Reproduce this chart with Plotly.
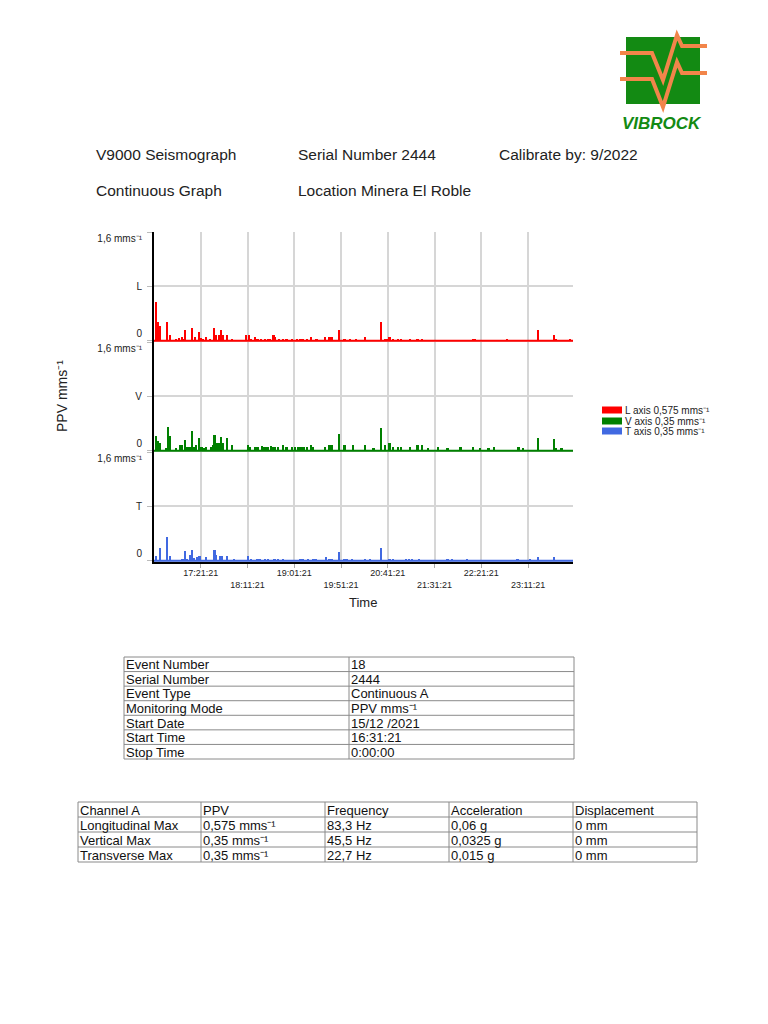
import pandas as pd
import plotly.graph_objects as go

W, H = 768, 1024
OFF = 8  # page body margin in the browser
FONT = "Arial, Liberation Sans, sans-serif"

def px(x):
    return (x - OFF) / W

def py(y):
    return 1 - (y - OFF) / H

# ---------------- data ----------------
start_time = pd.Timestamp("2021-12-15 16:31:21")
span_minutes = 448

tick_labels = ["17:21:21", "18:11:21", "19:01:21", "19:51:21",
               "20:41:21", "21:31:21", "22:21:21", "23:11:21"]

# minutes after start / PPV (mm/s)
l_minutes = [2, 4, 7, 14, 17, 24, 27, 30, 32, 33, 41, 44, 48, 50, 53, 56, 60, 64, 66, 70,
             72, 74, 78, 84, 99, 102, 104, 108, 111, 115, 119, 122, 124, 128, 130, 134, 138,
             142, 148, 153, 156, 159, 164, 168, 174, 183, 188, 190, 198, 204, 210, 216, 226,
             243, 247, 250, 252, 256, 261, 264, 274, 282, 287, 341, 343, 378, 411, 428, 430, 445]
l_values = [0.575, 0.27, 0.22, 0.28, 0.09, 0.03, 0.04, 0.06, 0.025, 0.15, 0.19, 0.06, 0.12, 0.035,
            0.03, 0.05, 0.03, 0.19, 0.09, 0.09, 0.16, 0.09, 0.09, 0.03, 0.09, 0.09, 0.03, 0.05,
            0.03, 0.03, 0.03, 0.03, 0.03, 0.09, 0.05, 0.03, 0.03, 0.03, 0.03, 0.03, 0.03, 0.03,
            0.03, 0.05, 0.03, 0.05, 0.05, 0.05, 0.15, 0.03, 0.03, 0.02, 0.05, 0.27, 0.03, 0.03,
            0.05, 0.03, 0.03, 0.03, 0.03, 0.03, 0.03, 0.03, 0.03, 0.03, 0.15, 0.09, 0.03, 0.015]

v_minutes = [2, 4, 7, 13, 15, 17, 24, 28, 30, 33, 36, 39, 41, 43, 45, 48, 51, 54, 56, 61, 63,
             65, 67, 70, 72, 74, 78, 84, 101, 103, 108, 111, 116, 118, 120, 122, 125, 127, 129,
             133, 138, 142, 148, 151, 154, 157, 160, 164, 168, 170, 183, 188, 190, 198, 204,
             213, 226, 235, 243, 247, 252, 256, 261, 264, 274, 282, 287, 293, 304, 314, 328,
             341, 349, 358, 364, 390, 395, 411, 428, 430, 436]
v_values = [0.21, 0.14, 0.11, 0.04, 0.35, 0.21, 0.04, 0.09, 0.09, 0.16, 0.05, 0.05, 0.29, 0.05,
            0.09, 0.18, 0.05, 0.04, 0.05, 0.05, 0.09, 0.235, 0.11, 0.11, 0.20, 0.11, 0.18, 0.09,
            0.09, 0.05, 0.05, 0.05, 0.07, 0.06, 0.05, 0.06, 0.07, 0.05, 0.06, 0.05, 0.09, 0.05,
            0.05, 0.05, 0.05, 0.05, 0.05, 0.05, 0.09, 0.05, 0.05, 0.09, 0.09, 0.245, 0.09, 0.09,
            0.09, 0.04, 0.33, 0.09, 0.11, 0.05, 0.05, 0.05, 0.05, 0.09, 0.09, 0.04, 0.05, 0.04,
            0.05, 0.05, 0.04, 0.04, 0.05, 0.05, 0.04, 0.18, 0.17, 0.04, 0.04]

t_minutes = [2, 7, 14, 17, 30, 32, 33, 35, 39, 41, 43, 46, 49, 56, 65, 66, 71, 73, 78, 86, 101,
             104, 111, 114, 119, 122, 129, 133, 138, 156, 159, 165, 170, 173, 184, 188, 191,
             198, 204, 207, 212, 226, 231, 243, 252, 256, 270, 273, 276, 284, 314, 319, 335,
             389, 402, 411, 428]
t_values = [0.07, 0.18, 0.35, 0.07, 0.03, 0.03, 0.14, 0.03, 0.09, 0.16, 0.04, 0.06, 0.07, 0.05,
            0.16, 0.09, 0.07, 0.07, 0.07, 0.03, 0.07, 0.02, 0.03, 0.03, 0.03, 0.03, 0.03, 0.03,
            0.03, 0.03, 0.03, 0.03, 0.03, 0.03, 0.05, 0.03, 0.03, 0.13, 0.03, 0.03, 0.03, 0.03,
            0.03, 0.18, 0.03, 0.03, 0.03, 0.03, 0.03, 0.03, 0.03, 0.03, 0.03, 0.03, 0.03, 0.06,
            0.06]

channel_names = ["L", "V", "T"]
channel_colors = ["#ff0000", "#008000", "#4169e1"]
legend_labels = ["L axis 0,575 mms⁻¹", "V axis 0,35 mms⁻¹", "T axis 0,35 mms⁻¹"]
y_max = 1.6
y_tick_text_top = "1,6 mms⁻¹"

header_row1 = ["V9000 Seismograph", "Serial Number 2444", "Calibrate by: 9/2022"]
header_row2 = ["Continuous Graph", "Location Minera El Roble"]

info_keys = ["Event Number", "Serial Number", "Event Type", "Monitoring Mode",
             "Start Date", "Start Time", "Stop Time"]
info_vals = ["18", "2444", "Continuous A", "PPV mms⁻¹", "15/12 /2021", "16:31:21", "0:00:00"]

max_cols = ["Channel A", "PPV", "Frequency", "Acceleration", "Displacement"]
max_channel = ["Longitudinal Max", "Vertical Max", "Transverse Max"]
max_ppv = ["0,575 mms⁻¹", "0,35 mms⁻¹", "0,35 mms⁻¹"]
max_freq = ["83,3 Hz", "45,5 Hz", "22,7 Hz"]
max_acc = ["0,06 g", "0,0325 g", "0,015 g"]
max_disp = ["0 mm", "0 mm", "0 mm"]

# ---------------- figure ----------------
fig = go.Figure()

series = [(l_minutes, l_values), (v_minutes, v_values), (t_minutes, t_values)]
end_time = start_time + pd.Timedelta(minutes=span_minutes)
tickvals = [pd.Timestamp("2021-12-15 " + t) for t in tick_labels]
ticktext = [t if i % 2 == 0 else "<br>" + t for i, t in enumerate(tick_labels)]

for i, ((mins, vals), name, color, lab) in enumerate(zip(series, channel_names, channel_colors, legend_labels)):
    ax = "" if i == 0 else str(i + 1)
    times = [start_time + pd.Timedelta(minutes=m) for m in mins]
    fig.add_trace(go.Bar(x=times, y=vals, width=110000, marker=dict(color=color, line=dict(width=0)),
                         name=lab, showlegend=False, xaxis="x" + ax, yaxis="y" + ax))
    fig.add_trace(go.Scatter(x=[start_time, end_time], y=[0, 0], mode="lines",
                             line=dict(color=color, width=2), showlegend=False,
                             hoverinfo="skip", xaxis="x" + ax, yaxis="y" + ax))

panel_tops = [232, 342, 452]
panel_h = 110
layout = dict(width=W, height=H, margin=dict(l=0, r=0, t=0, b=0),
              paper_bgcolor="white", plot_bgcolor="white", bargap=0,
              font=dict(family=FONT, color="#222"))
for i, name in enumerate(channel_names):
    ax = "" if i == 0 else str(i + 1)
    top = panel_tops[i]
    last = i == 2
    layout["xaxis" + ax] = dict(
        domain=[px(154), px(573)], anchor="y" + ax, range=[start_time, end_time],
        tickvals=tickvals, ticktext=ticktext if last else None, showticklabels=last,
        showgrid=True, gridcolor="#d6d6d6", gridwidth=2, zeroline=False,
        showline=last, linecolor="black", linewidth=2,
        ticks="outside" if last else "", ticklen=4, tickcolor="#aaaaaa",
        ticklabelstandoff=-3,
        tickfont=dict(size=9, color="#222", family=FONT), tickangle=0,
    )
    layout["yaxis" + ax] = dict(
        domain=[py(top + panel_h), py(top)], anchor="x" + ax, range=[-0.02, y_max],
        tickvals=[0.1, 0.8, 1.51], ticktext=["0", name, y_tick_text_top],
        showgrid=False, zeroline=False, ticks="", ticklabelstandoff=8,
        minor=dict(tickvals=[0, 0.8, 1.6], showgrid=True, gridcolor="#d6d6d6", gridwidth=2,
                   ticks="outside", ticklen=5, tickcolor="#bbbbbb"),
        showline=True, linecolor="black", linewidth=2,
        tickfont=dict(size=10, color="#222", family=FONT),
    )
fig.update_layout(**layout)

annotations = []
shapes = []

def label(text, x, y, size, xanchor="left", **kw):
    annotations.append(dict(text=text, x=px(x), y=py(y), xref="paper", yref="paper",
                            xanchor=xanchor, yanchor="middle", showarrow=False,
                            font=dict(size=size, color=kw.pop("color", "#222"), family=FONT), **kw))

# header
for txt, x in zip(header_row1, [94, 296, 497]):
    label(txt, x, 154, 15.5)
for txt, x in zip(header_row2, [94, 296]):
    label(txt, x, 190, 15.5)
# axis titles
label("PPV mms⁻¹", 62, 396, 14, xanchor="center", textangle=-90)
label("Time", 363, 602, 13, xanchor="center")
# logo text
label("<b><i>VIBROCK</i></b>", 662, 123, 17, xanchor="center", color="#138a13")

# legend (manual, compact)
for k, (lab, color) in enumerate(zip(legend_labels, channel_colors)):
    yc = [410, 421, 431][k]
    shapes.append(dict(type="rect", xref="paper", yref="paper", x0=px(602), x1=px(622),
                       y0=py(yc + 3.5), y1=py(yc - 3.5), fillcolor=color, line=dict(width=0)))
    label(lab, 623, yc, 10)

# logo graphics
shapes.append(dict(type="rect", xref="paper", yref="paper", x0=px(626), x1=px(700),
                   y0=py(104), y1=py(37), fillcolor="#138a13", line=dict(width=0), layer="above"))

def path(points):
    return "M " + " L ".join(f"{px(a):.5f},{py(b):.5f}" for a, b in points)

for pts in ([(620, 53), (652, 53), (663, 80), (677, 35), (682, 46), (707, 46)],
            [(620, 79), (652, 79), (663, 107), (677, 62), (682, 73), (707, 73)]):
    shapes.append(dict(type="path", xref="paper", yref="paper", path=path(pts),
                       line=dict(color="#f2854a", width=4), layer="above"))

# tables (grid lines + cell text)
def draw_table(columns, col_edges, top, row_h):
    nrows = len(columns[0])
    bottom = top + nrows * row_h
    for e in col_edges:
        shapes.append(dict(type="line", xref="paper", yref="paper", x0=px(e), x1=px(e),
                           y0=py(top), y1=py(bottom), line=dict(color="#8a8a8a", width=1)))
    for r in range(nrows + 1):
        yy = top + r * row_h
        shapes.append(dict(type="line", xref="paper", yref="paper", x0=px(col_edges[0]),
                           x1=px(col_edges[-1]), y0=py(yy), y1=py(yy),
                           line=dict(color="#8a8a8a", width=1)))
    for c, col in enumerate(columns):
        for r, txt in enumerate(col):
            label(txt, col_edges[c], top + (r + 0.5) * row_h + 0.5, 13, color="#111")

draw_table([info_keys, info_vals], [124, 349, 574], 657, 102 / 7)
draw_table([[max_cols[0]] + max_channel, [max_cols[1]] + max_ppv, [max_cols[2]] + max_freq,
            [max_cols[3]] + max_acc, [max_cols[4]] + max_disp],
           [78, 201, 325, 449, 573, 697], 802, 15)

fig.update_layout(annotations=annotations, shapes=shapes)

fig.write_html("out.html")
